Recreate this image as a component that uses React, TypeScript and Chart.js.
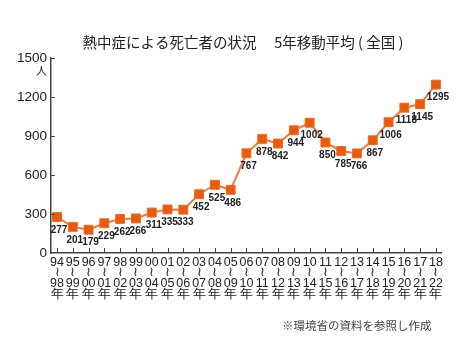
import React, { useEffect, useRef } from 'react';
import { Chart, registerables } from 'chart.js';

Chart.register(...registerables);

const startYears = ['94', '95', '96', '97', '98', '99', '00', '01', '02', '03', '04', '05', '06', '07', '08', '09', '10', '11', '12', '13', '14', '15', '16', '17', '18'];
const endYears = ['98', '99', '00', '01', '02', '03', '04', '05', '06', '07', '08', '09', '10', '11', '12', '13', '14', '15', '16', '17', '18', '19', '20', '21', '22'];
const deaths = [277, 201, 179, 229, 262, 266, 311, 335, 333, 452, 525, 486, 767, 878, 842, 944, 1002, 850, 785, 766, 867, 1006, 1118, 1145, 1295];
const yTickValues = [0, 300, 600, 900, 1200, 1500];
const titleText = '熱中症による死亡者の状況　 5年移動平均 ( 全国 )';
const unitText = '人';
const noteText = '※環境省の資料を参照し作成';

const NUM_FONT = "'Liberation Sans Narrow', 'Liberation Sans', sans-serif";
const CJK_FONT = "'Noto Sans CJK JP', sans-serif";

export default function App() {
  const ref = useRef<HTMLCanvasElement | null>(null);

  useEffect(() => {
    if (!ref.current) return;
    const labelsPlugin = {
      id: 'valueLabels',
      afterDatasetsDraw(chart: any) {
        const ctx = chart.ctx;
        const meta = chart.getDatasetMeta(0);
        ctx.save();
        ctx.font = `bold 10px ${NUM_FONT}`;
        ctx.fillStyle = '#222';
        ctx.textAlign = 'center';
        ctx.textBaseline = 'middle';
        meta.data.forEach((pt: any, i: number) => {
          ctx.fillText(String(deaths[i]), pt.x + 2, pt.y + 13);
        });
        ctx.restore();
      },
    };
    const inwardTicks = {
      id: 'inwardTicks',
      afterDraw(chart: any) {
        const ctx = chart.ctx;
        const { left, bottom } = chart.chartArea;
        const xs = chart.scales.x;
        const ys = chart.scales.y;
        ctx.save();
        ctx.strokeStyle = '#444';
        ctx.lineWidth = 1;
        ctx.beginPath();
        yTickValues.forEach((v) => {
          if (v === 0) return;
          const y = Math.round(ys.getPixelForValue(v)) + 0.5;
          ctx.moveTo(left, y);
          ctx.lineTo(left + 4, y);
        });
        startYears.forEach((_, i) => {
          const x = Math.round(xs.getPixelForValue(i)) + 0.5;
          ctx.moveTo(x, bottom);
          ctx.lineTo(x, bottom - 5);
        });
        ctx.stroke();
        ctx.restore();
      },
    };

    const chart = new Chart(ref.current, {
      type: 'line',
      data: {
        datasets: [
          {
            data: deaths.map((v, i) => ({ x: i, y: v })),
            borderColor: '#ee7a3c',
            borderWidth: 2,
            backgroundColor: '#ea5a0c',
            pointStyle: 'rect',
            pointRadius: 6.3,
            pointBorderColor: '#ee6a20',
            pointBorderWidth: 1,
            pointBackgroundColor: '#ea5a0c',
            tension: 0,
            yAxisID: 'y',
          },
        ],
      },
      options: {
        animation: false,
        responsive: false,
        devicePixelRatio: 1,
        layout: { padding: { left: 12, right: 0, top: 0, bottom: 0 } },
        plugins: {
          legend: { display: false },
          tooltip: { enabled: false },
          title: {
            display: true,
            text: titleText,
            color: '#222',
            font: { family: CJK_FONT, size: 14.5, weight: 'normal', lineHeight: 1.2 },
            padding: { top: 33.3, bottom: 7.3 },
          },
        },
        scales: {
          x: {
            type: 'linear',
            min: -0.38,
            max: 24.32,
            grid: { display: false, drawTicks: false },
            border: { display: true, color: '#444', width: 1.5 },
            afterFit: (scale: any) => {
              scale.height = 102;
            },
            afterBuildTicks: (scale: any) => {
              scale.ticks = startYears.map((_, i) => ({ value: i }));
            },
            ticks: {
              autoSkip: false,
              maxRotation: 0,
              minRotation: 0,
              padding: 4,
              color: '#222',
              font: { family: NUM_FONT, size: 12.5, lineHeight: 0.85 },
              callback: (v: any) => {
                const i = Math.round(Number(v));
                return [startYears[i], '≀', endYears[i], '年'];
              },
            },
          },
          y: {
            position: 'left',
            min: 0,
            max: 1500,
            grid: { display: false, drawTicks: false },
            border: { display: true, color: '#444', width: 1.5 },
            afterFit: (scale: any) => {
              scale.width = 39;
            },
            afterBuildTicks: (scale: any) => {
              scale.ticks = yTickValues.map((v) => ({ value: v }));
            },
            ticks: {
              padding: 4,
              color: '#222',
              font: { family: NUM_FONT, size: 13.5 },
              callback: (v: any) => String(v),
            },
          },
          yRight: {
            position: 'right',
            min: 0,
            max: 1500,
            grid: { display: false, drawTicks: false },
            border: { display: false },
            ticks: { display: false },
            afterFit: (scale: any) => {
              scale.width = 33;
            },
          },
        },
      },
      plugins: [labelsPlugin, inwardTicks],
    });
    return () => chart.destroy();
  }, []);

  return (
    <div style={{ position: 'absolute', left: 0, top: 0, width: 474, height: 355, background: '#fff' }}>
      <canvas ref={ref} width={474} height={355} style={{ display: 'block' }} />
      <div
        style={{
          position: 'absolute',
          left: 36,
          top: 64,
          fontFamily: CJK_FONT,
          fontSize: 11,
          lineHeight: '13px',
          color: '#222',
        }}
      >
        {unitText}
      </div>
      <div
        style={{
          position: 'absolute',
          left: 282,
          top: 317,
          fontFamily: "'Noto Sans CJK JP', serif",
          fontSize: 11.5,
          lineHeight: '16px',
          color: '#444',
          whiteSpace: 'nowrap',
        }}
      >
        {noteText}
      </div>
    </div>
  );
}
